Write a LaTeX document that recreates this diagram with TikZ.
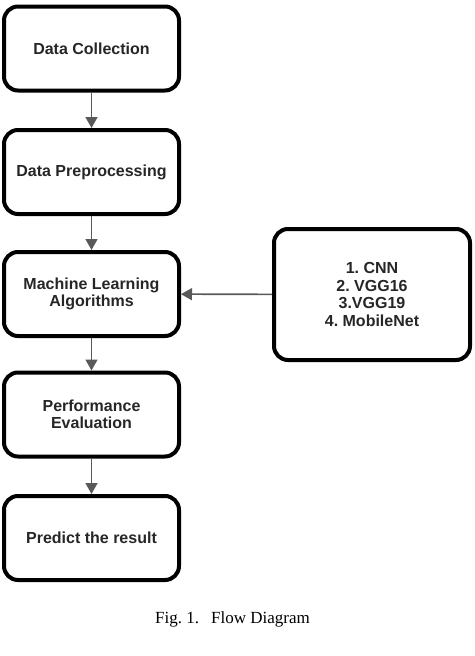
\documentclass[tikz,border=0pt]{standalone}
\usepackage{fontspec}
\setmainfont{Liberation Serif}
\newfontfamily\boxfont{Liberation Sans}
\usetikzlibrary{arrows.meta}
\frenchspacing

\begin{document}
\begin{tikzpicture}[x=1pt, y=-1pt,
    stage/.style={draw, line width=4pt, rounded corners=14pt, align=center,
        minimum width=175pt, minimum height=84pt, inner sep=2pt, text=black!85,
        font=\boxfont\bfseries\fontsize{16}{17.5}\selectfont},
    flow/.style={-{Triangle[length=11pt, width=12pt]}, draw=black!65, fill=black!65, line width=1.6pt}]
            \useasboundingbox (0,0) rectangle (474,656);

            \draw (91.5,48.5) node[stage] (collect) {Data Collection};
            \draw (91.5,172) node[stage] (prep) {Data Preprocessing};
            \draw (91.5,294) node[stage] (mlalgo) {Machine Learning\\Algorithms};
            \draw (91.5,414.5) node[stage] (perf) {Performance\\Evaluation};
            \draw (91.5,538) node[stage] (predict) {Predict the result};
            \draw (372,294.5) node[stage, minimum width=196pt, minimum height=131pt] (models)
                {1. CNN\\2. VGG16\\3.VGG19\\4. MobileNet};

            \draw[flow] (collect) -- (prep);
            \draw[flow] (prep) -- (mlalgo);
            \draw[flow] (mlalgo) -- (perf);
            \draw[flow] (perf) -- (predict);
            \draw[flow] (models) -- (mlalgo);

            \draw (232.5,619) node[font=\fontsize{17}{20}\selectfont] (caption) {Fig. 1.\hspace{12pt}Flow Diagram};
        \end{tikzpicture}
\end{document}
